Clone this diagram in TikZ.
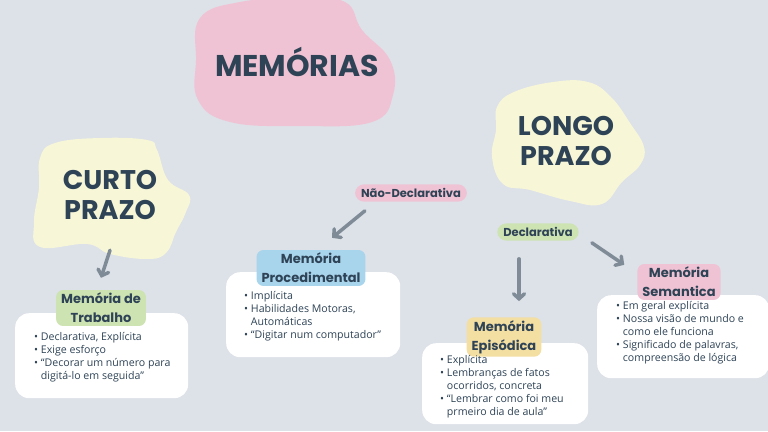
\documentclass[tikz,border=0pt]{standalone}
\usepackage{fontspec}
\setmainfont{Open Sans}
\newfontfamily\titlefont{Poppins}
\usetikzlibrary{arrows.meta}
\definecolor{fundo}{HTML}{DDE1E8}
\definecolor{tinta}{HTML}{2E4356}
\definecolor{rosa}{HTML}{EFC3D3}
\definecolor{amarelo}{HTML}{F7F7D8}
\definecolor{verde}{HTML}{CDE3B2}
\definecolor{azul}{HTML}{A8D4EC}
\definecolor{ouro}{HTML}{F4DFA3}
\definecolor{cinza}{HTML}{7F8B96}
\newcommand{\bola}{\textbullet\ }
\newcommand{\recuo}{\hphantom{\textbullet\ }}
\begin{document}
\begin{tikzpicture}[x=1pt,y=-1pt]
\tikzset{every node/.style={text=tinta}}
\tikzset{titulo/.style={font=\titlefont\bfseries\fontsize{30}{30}\selectfont},
         blobtxt/.style={font=\titlefont\bfseries\fontsize{27}{30}\selectfont, align=center},
         rotulo/.style={font=\titlefont\bfseries\fontsize{13}{19}\selectfont, align=center,
                        rounded corners=7, inner xsep=5, inner ysep=3},
         pilula/.style={font=\titlefont\bfseries\fontsize{11.5}{13}\selectfont,
                        rounded corners=9, inner xsep=6, inner ysep=4},
         cartao/.style={fill=white, rounded corners=14, anchor=north west},
         corpo/.style={font=\fontsize{10.6}{13}\selectfont, align=left, anchor=north west, inner sep=0},
         seta/.style={draw=cinza, line width=3.5pt, line cap=round,
                      -{Straight Barb[length=5pt,width=11pt,line cap=round]}}}
%\tikzset{every node/.style={draw=red}}
\useasboundingbox[fill=fundo] (0,0) rectangle (768,431);

% blobs
\fill[rosa] plot[smooth cycle, tension=0.7] coordinates {(200,18) (240,2) (300,-2) (345,2) (362,30) (390,60) (393,95) (372,122) (300,126) (230,122) (198,100) (196,60)};
\fill[amarelo] plot[smooth cycle, tension=0.7] coordinates {(40,158) (55,143) (100,138) (147,140) (157,150) (168,180) (189,195) (186,212) (176,232) (166,253) (147,259) (110,254) (87,244) (40,247) (34,222) (39,188)};
\fill[amarelo] plot[smooth cycle, tension=0.7] coordinates {(497,107) (514,92) (553,82) (588,82) (611,97) (630,123) (644,147) (640,165) (622,182) (602,204) (570,201) (530,190) (503,184) (492,157) (496,130)};

\node[titulo] (memorias) at (297,62) {MEMÓRIAS};
\node[blobtxt] (curto) at (110,195) {CURTO\\PRAZO};
\node[blobtxt] (longo) at (566,141) {LONGO\\PRAZO};

% curto prazo
\node[cartao, minimum width=173, minimum height=85] (trabalhoCard) at (15,313) {};
\node[rotulo, fill=verde] (trabalho) at (101,308) {Memória de\\Trabalho};
\node[corpo] (trabalhoTxt) at (34,332) {\bola Declarativa, Explícita\\
    \bola Exige esforço\\
    \bola “Decorar um número para\\
    \recuo digitá-lo em seguida”};
\draw[seta] ([yshift=-27pt]curto.south) -- ([yshift=12pt]trabalho.north);

% nao declarativa
\node[pilula, fill=rosa] (naoDecl) at (411,193) {Não-Declarativa};
\node[cartao, minimum width=174, minimum height=85] (procedCard) at (226,272) {};
\node[rotulo, fill=azul] (proced) at (311,268) {Memória\\Procedimental};
\node[corpo] (procedTxt) at (244,291) {\bola Implícita\\
    \bola Habilidades Motoras,\\
    \recuo Automáticas\\
    \bola “Digitar num computador”};
\draw[seta] ([shift={(10,9)}]naoDecl.south west) -- ([shift={(21,-12)}]proced.north);

% declarativa
\node[pilula, fill=verde] (decl) at (538,232) {Declarativa};
\node[cartao, minimum width=166, minimum height=81] (episodCard) at (422,343) {};
\node[rotulo, fill=ouro] (episod) at (504,337) {Memória\\Episódica};
\node[corpo] (episodTxt) at (440,355) {\bola Explícita\\
    \bola Lembranças de fatos\\
    \recuo ocorridos, concreta\\
    \bola “Lembrar como foi meu\\
    \recuo prmeiro dia de aula”};
\node[cartao, minimum width=172, minimum height=83] (semanCard) at (597,295) {};
\node[rotulo, fill=rosa] (seman) at (679,282) {Memória\\Semantica};
\node[corpo] (semanTxt) at (616,301) {\bola Em geral explícita\\
    \bola Nossa visão de mundo e\\
    \recuo como ele funciona\\
    \bola Significado de palavras,\\
    \recuo compreensão de lógica};
\draw[seta] ([shift={(-19,18)}]decl.south) -- ([shift={(15,-16)}]episod.north);
\draw[seta] ([shift={(13,2)}]decl.south east) -- ([shift={(-13,1)}]seman.north west);
\end{tikzpicture}
\end{document}
